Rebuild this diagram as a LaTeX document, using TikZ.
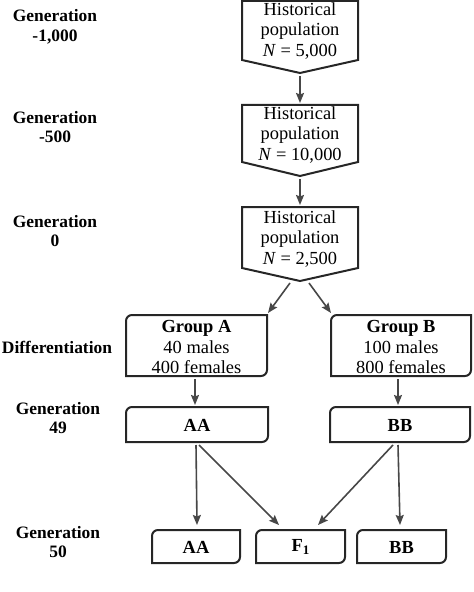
\documentclass[tikz,border=0pt]{standalone}
\usepackage{fontspec}
\setmainfont{Liberation Serif}
\usetikzlibrary{arrows.meta,calc}
\tikzset{
  lbl/.style={font=\fontsize{17.5}{20}\selectfont\bfseries, align=center, inner sep=0},
  txt/.style={font=\fontsize{18.5}{21}\selectfont, align=center, inner sep=0},
  boxline/.style={line width=2bp, draw=black!85, line join=miter},
  arr/.style={-{Stealth[length=10bp,width=8bp,inset=1.5bp]}, line width=1.6bp, draw=black!72}
}
\newcommand{\rbox}[4]{\draw[boxline] (#3,{-#2}) -- (#3,{-#4+6}) arc[start angle=0,end angle=-90,radius=6bp] -- (#1,{-#4}) -- (#1,{-#2-6}) arc[start angle=180,end angle=90,radius=6bp] -- cycle;}
\newcommand{\penta}[4]{\draw[boxline] ({#1-58},{-#2}) -- ({#1+58},{-#2}) -- ({#1+58},{-#3}) -- (#1,{-#4}) -- ({#1-58},{-#3}) -- cycle;}
\begin{document}
\begin{tikzpicture}[x=1bp,y=1bp]
\useasboundingbox (0,0) rectangle (474,-592);
% left labels
\node[lbl] (l1) at (55,-27) {Generation\\-1,000};
\node[lbl] (l2) at (55,-127) {Generation\\-500};
\node[lbl] (l3) at (55,-231) {Generation\\0};
\node[lbl] (l4) at (57,-347) {Differentiation};
\node[lbl] (l5) at (58,-418) {Generation\\49};
\node[lbl] (l6) at (58,-542) {Generation\\50};
% historical populations
\penta{300}{1}{60}{73}
\node[txt] (p1) at (300,-31) {Historical\\population\\\textit{N} = 5,000};
\penta{300}{105}{162}{176}
\node[txt] (p2) at (300,-135) {Historical\\population\\\textit{N} = 10,000};
\penta{300}{207}{268}{281}
\node[txt] (p3) at (300,-239) {Historical\\population\\\textit{N} = 2,500};
% groups
\rbox{126}{315}{267}{376}
\node[txt] (gA) at (196.5,-347) {\textbf{Group A}\\40 males\\400 females};
\rbox{331}{315}{471}{376}
\node[txt] (gB) at (401,-347) {\textbf{Group B}\\100 males\\800 females};
\rbox{126}{407}{268}{442}
\node[txt] (aa) at (197,-425) {\textbf{AA}};
\rbox{330}{407}{470}{442}
\node[txt] (bb) at (400,-425) {\textbf{BB}};
\rbox{152}{530}{240}{563}
\node[txt] (aa2) at (196,-547) {\textbf{AA}};
\rbox{256}{530}{345}{563}
\node[txt] (f1) at (300.5,-547) {\textbf{F\raisebox{-0.35ex}{\fontsize{13}{13}\selectfont 1}}};
\rbox{357}{530}{446}{563}
\node[txt] (bb2) at (401.5,-547) {\textbf{BB}};
% connector end points
\coordinate (p1tip) at (300,-76);
\coordinate (p2top) at (300,-103);
\coordinate (p2tip) at (300,-179);
\coordinate (p3top) at (300,-205);
\coordinate (p3l) at (290,-283);
\coordinate (p3r) at (309,-283);
\coordinate (gAin) at (268,-313);
\coordinate (gBin) at (331,-313);
\coordinate (gAout) at (195,-379);
\coordinate (aain) at (195,-405);
\coordinate (gBout) at (398,-379);
\coordinate (bbin) at (398,-405);
\coordinate (aaout1) at (196,-445);
\coordinate (aaout2) at (199,-445);
\coordinate (bbout1) at (393,-445);
\coordinate (bbout2) at (398,-445);
\coordinate (aa2in) at (197,-525);
\coordinate (f1inl) at (279,-525);
\coordinate (f1inr) at (318,-525);
\coordinate (bb2in) at (400,-525);
% connectors
\draw[arr] (p1tip) -- (p2top);
\draw[arr] (p2tip) -- (p3top);
\draw[arr] (p3l) -- (gAin);
\draw[arr] (p3r) -- (gBin);
\draw[arr] (gAout) -- (aain);
\draw[arr] (gBout) -- (bbin);
\draw[arr] (aaout1) -- (aa2in);
\draw[arr] (aaout2) -- (f1inl);
\draw[arr] (bbout1) -- (f1inr);
\draw[arr] (bbout2) -- (bb2in);
\end{tikzpicture}
\end{document}
